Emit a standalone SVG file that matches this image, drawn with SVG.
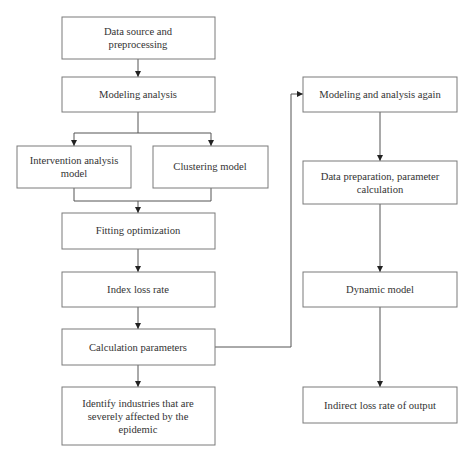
<svg xmlns="http://www.w3.org/2000/svg" width="474" height="462" viewBox="0 0 474 462">
<style>
.box{fill:#fff;stroke:#7a7a7a;stroke-width:1}
.t{font-family:'Liberation Serif','DejaVu Serif',serif;font-size:10.6px;fill:#333;text-anchor:middle}
.c{fill:none;stroke:#555;stroke-width:1}
</style>
<defs>
<marker id="a" viewBox="0 0 6 6" refX="6" refY="3" markerWidth="6" markerHeight="6" orient="auto" markerUnits="userSpaceOnUse">
<path d="M0,0 L6,3 L0,6 Z" fill="#222"/>
</marker>
</defs>
<rect width="474" height="462" fill="#fff"/>
<g id="connectors">
<path class="c" d="M138,59 V77" marker-end="url(#a)"/>
<path class="c" d="M138,112 V133 H74 V146" marker-end="url(#a)"/>
<path class="c" d="M138,133 H211 V146" marker-end="url(#a)"/>
<path class="c" d="M74,188 V201 H211 V188"/>
<path class="c" d="M138,201 V213" marker-end="url(#a)"/>
<path class="c" d="M138,249 V272" marker-end="url(#a)"/>
<path class="c" d="M138,307 V329" marker-end="url(#a)"/>
<path class="c" d="M138,365 V387" marker-end="url(#a)"/>
<path class="c" d="M215,347 H291 V94 H303" marker-end="url(#a)"/>
<path class="c" d="M380,112 V161" marker-end="url(#a)"/>
<path class="c" d="M380,204 V272" marker-end="url(#a)"/>
<path class="c" d="M380,307 V387" marker-end="url(#a)"/>
</g>
<g id="n1"><rect class="box" x="62" y="17" width="153" height="42"/><text class="t" x="138" y="35">Data source and</text><text class="t" x="138" y="48">preprocessing</text></g>
<g id="n2"><rect class="box" x="62" y="77" width="153" height="35"/><text class="t" x="138" y="98">Modeling analysis</text></g>
<g id="n3"><rect class="box" x="17" y="146" width="114" height="42"/><text class="t" x="74" y="164">Intervention analysis</text><text class="t" x="74" y="177">model</text></g>
<g id="n4"><rect class="box" x="153" y="146" width="115" height="42"/><text class="t" x="210" y="170">Clustering model</text></g>
<g id="n5"><rect class="box" x="62" y="213" width="153" height="36"/><text class="t" x="138" y="234">Fitting optimization</text></g>
<g id="n6"><rect class="box" x="62" y="272" width="153" height="35"/><text class="t" x="138" y="293">Index loss rate</text></g>
<g id="n7"><rect class="box" x="62" y="329" width="153" height="36"/><text class="t" x="138" y="351">Calculation parameters</text></g>
<g id="n8"><rect class="box" x="62" y="387" width="153" height="58"/><text class="t" x="138" y="407">Identify industries that are</text><text class="t" x="138" y="420">severely affected by the</text><text class="t" x="138" y="433">epidemic</text></g>
<g id="n9"><rect class="box" x="303" y="77" width="154" height="35"/><text class="t" x="380" y="98">Modeling and analysis again</text></g>
<g id="n10"><rect class="box" x="303" y="161" width="154" height="43"/><text class="t" x="380" y="180">Data preparation, parameter</text><text class="t" x="380" y="193">calculation</text></g>
<g id="n11"><rect class="box" x="303" y="272" width="154" height="35"/><text class="t" x="380" y="293">Dynamic model</text></g>
<g id="n12"><rect class="box" x="303" y="387" width="154" height="36"/><text class="t" x="380" y="409">Indirect loss rate of output</text></g>
</svg>
